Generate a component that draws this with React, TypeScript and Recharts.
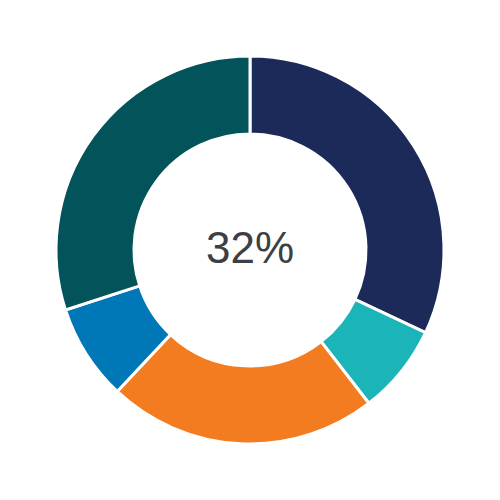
import React from "react";
import { PieChart, Pie, Cell } from "recharts";

const categories = ["Navy", "Teal", "Orange", "Blue", "Dark Teal"];
const values = [32, 7.5, 22.5, 8, 30];
const colors = ["#1c2a5a", "#1bb5b9", "#f47c20", "#0077b6", "#02535a"];
const centerLabel = "32%";

const data = categories.map((name, i) => ({ name, value: values[i] }));

export default function App() {
  return (
    <div style={{ position: "absolute", left: 0, top: 0, width: 500, height: 500, background: "#fff" }}>
      <PieChart width={500} height={500} margin={{ top: 0, right: 0, bottom: 0, left: 0 }}>
        <Pie
          data={data}
          dataKey="value"
          cx={250}
          cy={250}
          innerRadius={116}
          outerRadius={194}
          startAngle={90}
          endAngle={-270}
          stroke="#ffffff"
          strokeWidth={3}
          isAnimationActive={false}
        >
          {data.map((d, i) => (
            <Cell key={d.name} fill={colors[i]} />
          ))}
        </Pie>
        <text
          x={250}
          y={247}
          textAnchor="middle"
          dominantBaseline="central"
          fontFamily="Liberation Sans, Arial, sans-serif"
          fontSize={44}
          fill="#3c4045"
        >
          {centerLabel}
        </text>
      </PieChart>
    </div>
  );
}
